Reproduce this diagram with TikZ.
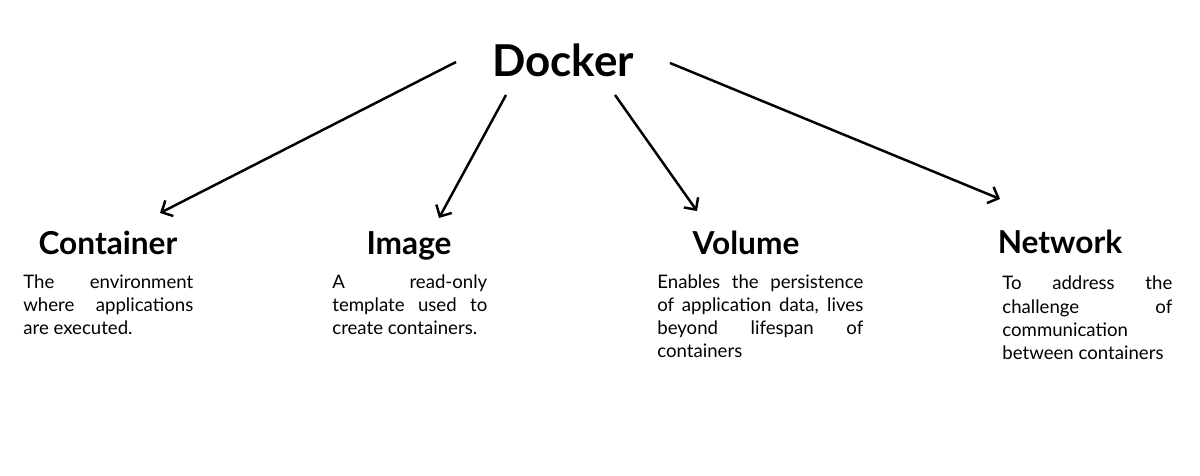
\documentclass[tikz,border=0pt]{standalone}
\usepackage{fontspec}
\setmainfont{Lato}
\usetikzlibrary{positioning,arrows.meta}
\hyphenpenalty=10000
\exhyphenpenalty=10000

\begin{document}
\begin{tikzpicture}[x=0.02cm, y=-0.02cm]

        \def\w{3.4cm}

        % Styles for the title, the headings and the text under them
        \tikzset{
            title/.style={font=\fontsize{25}{29}\selectfont\bfseries, inner sep=0pt, anchor=base},
            head/.style={font=\fontsize{18}{22}\selectfont\bfseries, inner sep=0pt, anchor=base},
            body/.style={font=\fontsize{10.6}{13.2}\selectfont,
                inner sep=0pt, anchor=base west, align=justify},
            link/.style={-{Straight Barb[length=5pt,width=10pt]}, line width=1.4pt}
        }

        \useasboundingbox (0,0) rectangle (1200,476);

        \node[title] (docker) at (563,77) {Docker};

        % Scope with the four parts
        \begin{scope}
            \node[head] (container) at (108,255) {Container};
            \node[body, text width=\w] (c) at (23,288)
            {The environment where applications are executed.};
            \node[head] (image) at (409,255) {Image};
            \node[body, text width=3.1cm] (i) at (332,288)
            {A read-only template used to create containers.};
            \node[head] (volume) at (746,255) {Volume};
            \node[body, text width=4.12cm] (v) at (657,288)
            {Enables the persistence of application data, lives\linebreak beyond lifespan of containers};
            \node[head] (network) at (1060,254) {Network};
            \node[body, text width=\w] (n) at (1002,290)
            {To address the challenge of communication between containers};
        \end{scope}

        % Ends of the arrows
        \coordinate (a1) at (456,62);
        \coordinate (b1) at (160,213);
        \coordinate (a2) at (506,95);
        \coordinate (b2) at (439,218);
        \coordinate (a3) at (615,95);
        \coordinate (b3) at (697,211);
        \coordinate (a4) at (670,63);
        \coordinate (b4) at (1000,199);

        \begin{scope}[link]
            \draw (a1) -- (b1);
            \draw (a2) -- (b2);
            \draw (a3) -- (b3);
            \draw (a4) -- (b4);
        \end{scope}

\end{tikzpicture}
\end{document}
